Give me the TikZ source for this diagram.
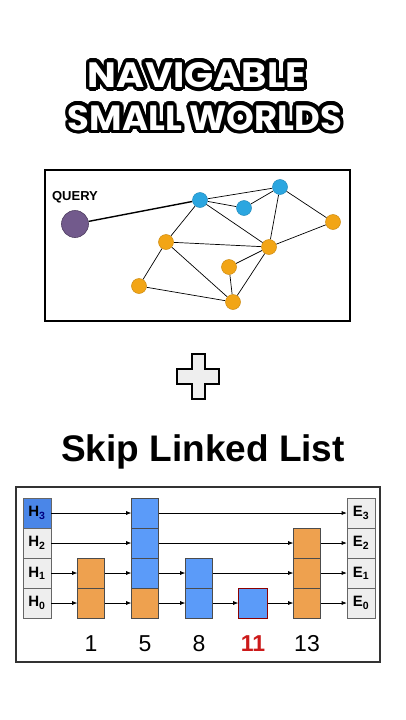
\documentclass[tikz,border=0pt]{standalone}
\usepackage{fontspec}
\setmainfont{Liberation Sans}
\newfontfamily\titlefont{Poppins}
\usetikzlibrary{arrows.meta,backgrounds}
\definecolor{gblue}{HTML}{2BA6E0}
\definecolor{gorange}{HTML}{F2A516}
\definecolor{qpurple}{HTML}{725A8C}
\definecolor{cblue}{HTML}{5B9BF9}
\definecolor{hblue}{HTML}{4A86E8}
\definecolor{corange}{HTML}{EEA14F}
\definecolor{cgray}{HTML}{EEEEEE}
\definecolor{nred}{HTML}{CC1A1A}
\newcommand{\ttlA}{\resizebox{218pt}{25pt}{\titlefont\bfseries NAVIGABLE}}
\newcommand{\ttlB}{\resizebox{274pt}{25pt}{\titlefont\bfseries SMALL WORLDS}}
\tikzset{
  ttl/.style={inner sep=0pt, anchor=center},
  bnode/.style={circle, fill=gblue, draw=gblue!85!black, line width=0.5pt, minimum size=15pt, inner sep=0pt},
  onode/.style={circle, fill=gorange, draw=gorange!85!black, line width=0.5pt, minimum size=15pt, inner sep=0pt},
  qnode/.style={circle, fill=qpurple, draw=qpurple!70!black, line width=0.6pt, minimum size=27pt, inner sep=0pt},
  gedge/.style={line width=0.7pt, black},
  cell/.style={draw=black!70, line width=0.6pt, minimum width=27pt, minimum height=30pt, inner sep=0pt},
  bcell/.style={cell, fill=cblue},
  ocell/.style={cell, fill=corange},
  gcell/.style={draw=black!60, line width=0.6pt, fill=cgray, minimum width=28pt, minimum height=30pt, inner sep=0pt, font=\fontsize{15}{15}\selectfont\bfseries},
  arr/.style={line width=0.6pt, -{Latex[length=5pt,width=4pt]}},
  num/.style={font=\fontsize{23}{23}\selectfont, inner sep=0pt}
}
\begin{document}
\begin{tikzpicture}[x=1pt,y=-1pt]
\useasboundingbox (0,0) rectangle (405,720);
% Title with outline
\foreach \a in {0,15,...,345}{
  \node[ttl, text=black] at ([shift={(\a:3.6)}]197,75) {\ttlA};
  \node[ttl, text=black] at ([shift={(\a:3.6)}]205,118) {\ttlB};
}
\node[ttl, text=white] (title1) at (197,75) {\ttlA};
\node[ttl, text=white] (title2) at (205,118) {\ttlB};

% Graph box
\node[draw, line width=1.3pt, minimum width=305pt, minimum height=151pt, inner sep=0pt] (gbox) at (197.5,245.5) {};
\node[font=\fontsize{13}{13}\selectfont\bfseries, inner sep=0pt] (qlabel) at (75,197) {QUERY};
\node[qnode] (q) at (75,224) {};
\node[bnode] (b1) at (200,200) {};
\node[bnode] (b2) at (244,208) {};
\node[bnode] (b3) at (280,187) {};
\node[onode] (o1) at (166,242) {};
\node[onode] (o2) at (269,247) {};
\node[onode] (o3) at (333,222) {};
\node[onode] (o4) at (229,267) {};
\node[onode] (o5) at (139,286) {};
\node[onode] (o6) at (233,302) {};
\begin{scope}[on background layer]
\fill[white] (0,0) rectangle (405,720);
\draw[line width=1.4pt] (q) -- (b1);
\draw[gedge] (b1) -- (b3);
\draw[gedge] (b1) -- (b2);
\draw[gedge] (b2) -- (b3);
\draw[gedge] (b1) -- (o1);
\draw[gedge] (b1) -- (o2);
\draw[gedge] (b3) -- (o2);
\draw[gedge] (b3) -- (o3);
\draw[gedge] (o3) -- (o2);
\draw[gedge] (o1) -- (o2);
\draw[gedge] (o1) -- (o5);
\draw[gedge] (o1) -- (o6);
\draw[gedge] (o5) -- (o6);
\draw[gedge] (o4) -- (o2);
\draw[gedge] (o4) -- (o6);
\draw[gedge] (o2) -- (o6);
\end{scope}

% Plus sign
\draw[fill=cgray, line width=1.3pt] (192,354) -- (205,354) -- (205,369) -- (219,369) -- (219,384) -- (205,384) -- (205,399) -- (192,399) -- (192,384) -- (177,384) -- (177,369) -- (192,369) -- cycle;

% Skip list title
\node[font=\fontsize{37}{37}\selectfont\bfseries, inner sep=0pt] (sltitle) at (203,452) {Skip Linked List};

% Skip list box
\node[draw=black!80, line width=1.3pt, minimum width=364pt, minimum height=175pt, inner sep=0pt] (sbox) at (198,574.5) {};

% Head / tail
\node[gcell, fill=hblue] (h3) at (37,513) {H\textsubscript{\color{blue!50!black}3}};
\node[gcell] (h2) at (37,543) {H\textsubscript{2}};
\node[gcell] (h1) at (37,573) {H\textsubscript{1}};
\node[gcell] (h0) at (37,603) {H\textsubscript{0}};
\node[gcell] (e3) at (361,513) {E\textsubscript{3}};
\node[gcell] (e2) at (361,543) {E\textsubscript{2}};
\node[gcell] (e1) at (361,573) {E\textsubscript{1}};
\node[gcell] (e0) at (361,603) {E\textsubscript{0}};

% nodes
\node[ocell] (a1) at (91,573) {};
\node[ocell] (a0) at (91,603) {};
\node[bcell] (b3c) at (145,513) {};
\node[bcell] (b2c) at (145,543) {};
\node[bcell] (b1c) at (145,573) {};
\node[ocell] (b0c) at (145,603) {};
\node[bcell] (c1) at (199,573) {};
\node[bcell] (c0) at (199,603) {};
\node[bcell, draw=red!55!black, minimum width=29pt] (d0) at (253,603) {};
\node[ocell] (f2) at (307,543) {};
\node[ocell] (f1) at (307,573) {};
\node[ocell] (f0) at (307,603) {};

% arrows
\draw[arr] (h3) -- (b3c);
\draw[arr] (b3c) -- (e3);
\draw[arr] (h2) -- (b2c);
\draw[arr] (b2c) -- (f2);
\draw[arr] (f2) -- (e2);
\draw[arr] (h1) -- (a1);
\draw[arr] (a1) -- (b1c);
\draw[arr] (b1c) -- (c1);
\draw[arr] (c1) -- (f1);
\draw[arr] (f1) -- (e1);
\draw[arr] (h0) -- (a0);
\draw[arr] (a0) -- (b0c);
\draw[arr] (b0c) -- (c0);
\draw[arr] (c0) -- (d0);
\draw[arr] (d0) -- (f0);
\draw[arr] (f0) -- (e0);

% numbers
\node[num] (n1) at (91,644) {1};
\node[num] (n5) at (145,644) {5};
\node[num] (n8) at (199,644) {8};
\node[num, text=nred, font=\fontsize{23}{23}\selectfont\bfseries] (n11) at (253,644) {11};
\node[num] (n13) at (307,644) {13};
\end{tikzpicture}
\end{document}
